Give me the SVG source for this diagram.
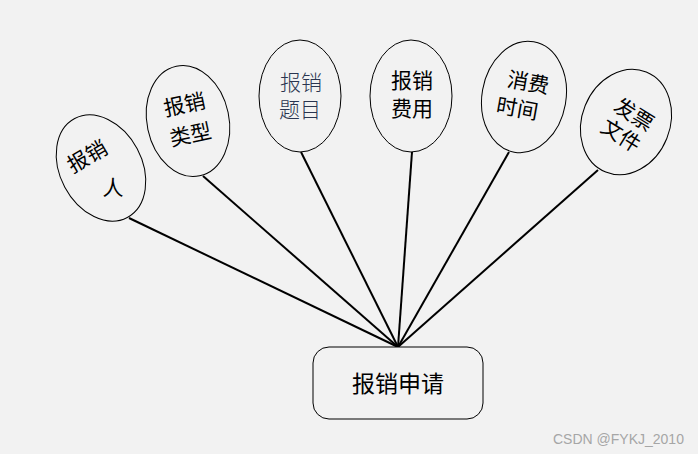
<svg xmlns="http://www.w3.org/2000/svg" width="698" height="454" viewBox="0 0 698 454">
<style>
.e{fill:#f2f2f2;stroke:#000;stroke-width:1}
.t{font-family:"Noto Sans CJK SC","Noto Sans CJK JP",sans-serif;font-size:21px;fill:#000;text-anchor:middle}
.c line{stroke:#000;stroke-width:2}
</style>
<rect width="698" height="454" fill="#f2f2f2"/>
<g class="c" id="connectors">
<line x1="129" y1="218" x2="398" y2="347"/>
<line x1="203" y1="176" x2="398" y2="347"/>
<line x1="301" y1="152" x2="398" y2="347"/>
<line x1="412" y1="152" x2="398" y2="347"/>
<line x1="509" y1="152" x2="398" y2="347"/>
<line x1="598" y1="170" x2="398" y2="347"/>
</g>
<g id="n1">
<ellipse class="e" cx="101" cy="168" rx="41" ry="56" transform="rotate(-28 101 168)"/>
<text class="t" transform="translate(91 163) rotate(-30)">报销</text>
<text class="t" x="113" y="195">人</text>
</g>
<g id="n2">
<ellipse class="e" cx="188" cy="121" rx="41" ry="56" transform="rotate(-12 188 121)"/>
<text class="t" transform="translate(186 112) rotate(-12)">报销</text>
<text class="t" transform="translate(192 142) rotate(-12)">类型</text>
</g>
<g id="n3">
<ellipse class="e" cx="300" cy="96" rx="41" ry="56"/>
<text class="t" x="301" y="90" style="fill:#2a3550;font-weight:300">报销</text>
<text class="t" x="300" y="117" style="fill:#2a3550;font-weight:300">题目</text>
</g>
<g id="n4">
<ellipse class="e" cx="411" cy="96" rx="41" ry="56"/>
<text class="t" x="412" y="88">报销</text>
<text class="t" x="412" y="116">费用</text>
</g>
<g id="n5">
<ellipse class="e" cx="524" cy="97" rx="42" ry="56" transform="rotate(10 524 97)"/>
<text class="t" transform="translate(527 90) rotate(10)">消费</text>
<text class="t" transform="translate(516 116) rotate(10)">时间</text>
</g>
<g id="n6">
<ellipse class="e" cx="626" cy="122" rx="44" ry="54" transform="rotate(22 626 122)"/>
<text class="t" transform="translate(630 121) rotate(32)">发票</text>
<text class="t" transform="translate(617 142) rotate(32)">文件</text>
</g>
<g id="n7">
<rect x="313" y="347" width="170" height="72" rx="16" fill="#f2f2f2" stroke="#000" stroke-width="1"/>
<text class="t" x="398" y="392" style="font-size:23px">报销申请</text>
</g>
<text x="553" y="444" font-family="Liberation Sans, sans-serif" font-size="14" fill="#a6a6a6">CSDN @FYKJ_2010</text>
</svg>
